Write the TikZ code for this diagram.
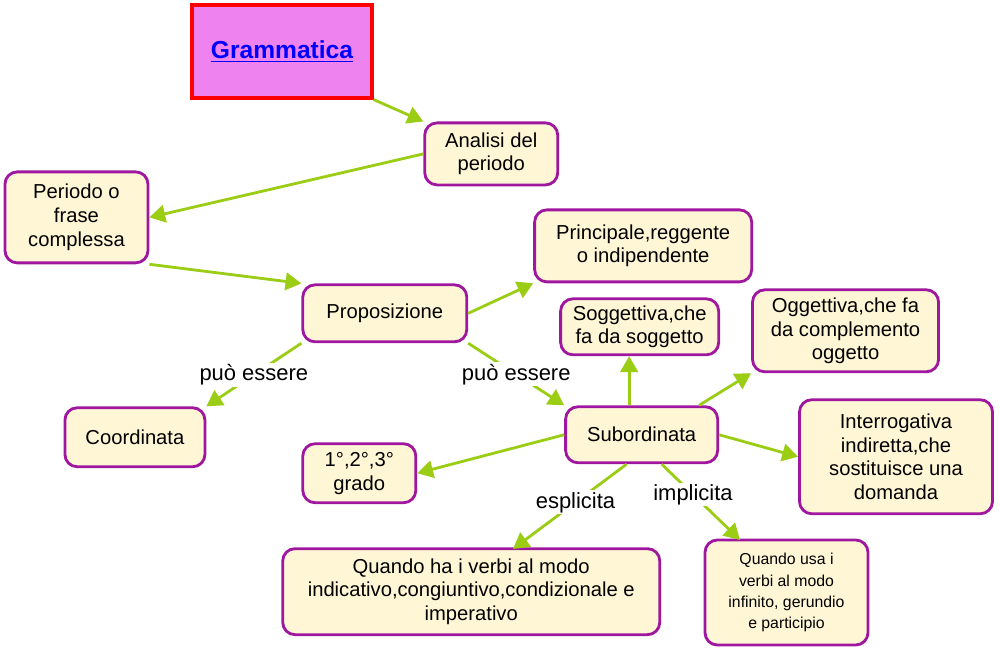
\documentclass[tikz,border=0pt]{standalone}
\usepackage{fontspec}
\setmainfont{Liberation Sans}
\usetikzlibrary{arrows.meta}
\definecolor{boxfill}{HTML}{FFF6D5}
\definecolor{boxline}{HTML}{A0179F}
\definecolor{arr}{HTML}{9ACD14}
\tikzset{
 cbox/.style={draw=boxline,line width=1.6pt,fill=boxfill,rounded corners=7pt,align=center,font=\fontsize{11.5}{13.5}\selectfont,inner sep=2pt},
 conn/.style={draw=arr,line width=1.6pt,-{Triangle[length=9pt,width=10pt]}},
 lab/.style={fill=white,font=\fontsize{12.5}{14}\selectfont,inner sep=1pt}
}
\newcommand{\bx}[6]{\node[cbox,minimum width={(#4-#2)*0.02cm},minimum height={(#5-#3)*0.02cm}] (#1) at ({(#2+#4)*0.01},{-(#3+#5)*0.01}) {#6};}
\begin{document}
\begin{tikzpicture}
\useasboundingbox (0,0) rectangle (20,-13);
\node[draw=red,line width=1.8pt,fill={rgb,255:red,238;green,130;blue,238},minimum width=3.6cm,minimum height=1.86cm,font=\fontsize{14}{16}\selectfont\bfseries] (g) at (5.64,-1.03) {\textcolor{blue}{\underline{Grammatica}}};
\bx{an}{425}{123}{558}{185}{Analisi del\\periodo}
\bx{pe}{5}{172}{148}{263}{Periodo o\\frase\\complessa}
\bx{pr}{535}{210}{752}{282}{Principale,reggente\\o indipendente}
\bx{po}{303}{285}{467}{342}{Proposizione}
\bx{so}{561}{299}{719}{355}{Soggettiva,che\\fa da soggetto}
\bx{og}{753}{290}{939}{372}{Oggettiva,che fa\\da complemento\\oggetto}
\bx{co}{65}{408}{205}{467}{Coordinata}
\bx{su}{566}{407}{718}{463}{Subordinata}
\bx{in}{800}{400}{993}{514}{Interrogativa\\indiretta,che\\sostituisce una\\domanda}
\bx{gr}{303}{444}{416}{503}{1°,2°,3°\\grado}
\bx{qh}{283}{549}{660}{635}{Quando ha i verbi al modo\\indicativo,congiuntivo,condizionale e\\imperativo}
\node[cbox,font=\fontsize{9}{12}\selectfont,minimum width=3.26cm,minimum height=2.1cm] (qu) at (15.73,-11.85) {Quando usa i\\verbi al modo\\infinito, gerundio\\e participio};
\coordinate (qht) at (10.26,-10.98);
\coordinate (qut) at (14.8,-10.8);
\draw[conn] (g.south east) -- (an.north west);
\draw[conn] (an.west) -- (pe.east);
\draw[conn] (pe.south east) -- (po.north west);
\draw[conn] (po.east) -- (pr.south west);
\draw[conn] (po.south west) -- node[lab]{può essere} (co.north east);
\draw[conn] (po.south east) -- node[lab]{può essere} (su.north west);
\draw[conn] (su.north) ++(-0.25,0) coordinate (s1) -- (s1 |- so.south);
\draw[conn] (su.north east) ++(-0.4,0) coordinate (s2) -- (og.south west);
\draw[conn] (su.east) -- (in.west);
\draw[conn] (su.west) -- (gr.east);
\draw[conn] (su.south) ++(-0.3,0) coordinate (s3) -- node[lab,pos=0.45]{esplicita} (qht);
\draw[conn] (su.south) ++(0.4,0) coordinate (s4) -- node[lab,pos=0.4]{implicita} (qut);
\end{tikzpicture}
\end{document}
